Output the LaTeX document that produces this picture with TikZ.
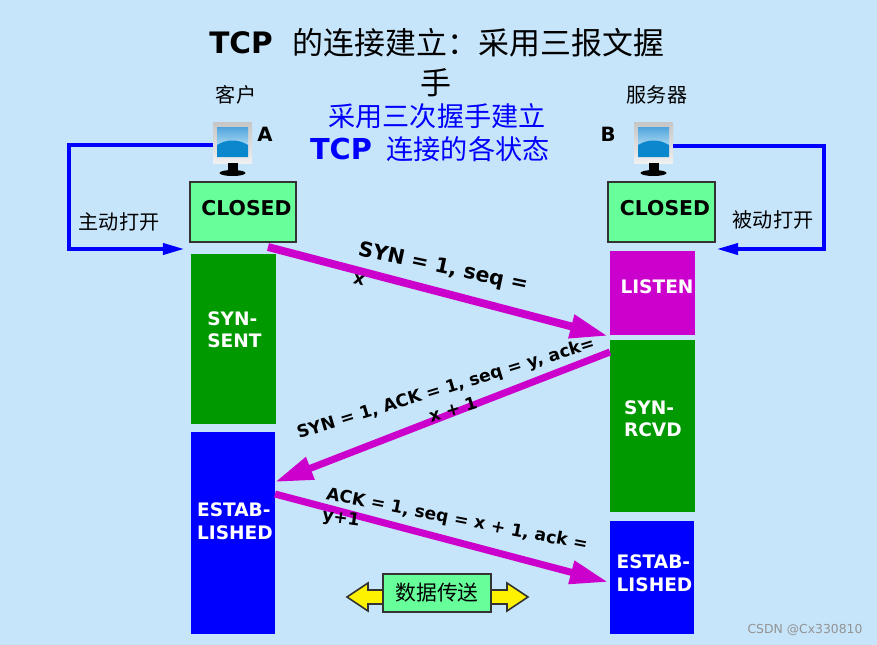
\documentclass[tikz,border=0pt]{standalone}
\usepackage{fontspec}
\setmainfont{DejaVu Sans}
\newfontfamily\cjk{Noto Sans CJK SC}
\usetikzlibrary{arrows.meta}

\definecolor{bgblue}{HTML}{C7E5FA}
\definecolor{mintbox}{HTML}{66FF99}
\definecolor{statusgreen}{HTML}{009900}
\definecolor{magentaline}{HTML}{CC00CC}
\definecolor{outlinegrey}{HTML}{333333}
\definecolor{screenlow}{HTML}{0B87CE}
\definecolor{screenhigh}{HTML}{A8D8F2}
\definecolor{screentop}{HTML}{4FA3DC}

\tikzset{
    closedbox/.style={draw=outlinegrey, line width=.9pt, fill=mintbox, minimum height=1.5cm, inner sep=0pt},
    closedtext/.style={inner sep=0pt, xshift=2.5pt, yshift=2.8pt, font=\fontsize{14.5}{16}\selectfont\bfseries},
    statebox/.style={minimum width=2.1cm, inner sep=0pt},
    statetext/.style={text=white, inner sep=0pt, align=left, font=\fontsize{13.2}{16}\selectfont\bfseries},
    msgline/.style={magentaline, line width=5pt, -{Triangle[length=27pt,width=16pt]}},
    openline/.style={blue, line width=2.3pt, -{Triangle[length=15pt,width=8pt]}},
    msglabel/.style={font=\fontsize{12.2}{14}\selectfont\bfseries, inner sep=0pt},
    cjklabel/.style={font=\cjk\fontsize{14.3}{16}\selectfont, inner sep=0pt},
    pics/monitor/.style={code={
        \shade[top color=gray!45, bottom color=gray!12] (-19.5,-26) rectangle (19.5,15);
        \shade[top color=screentop, bottom color=screenhigh] (-15.5,-21) rectangle (15.5,-3);
        \fill[screenlow] (-15.5,9) -- (-15.5,-3) .. controls (-6,-9) and (6,-9) .. (15.5,-3) -- (15.5,9) -- cycle;
        \fill[black] (-5,15) rectangle (5,23);
        \fill[black] (0,25) ellipse (13 and 3);
    }}
}

\begin{document}
\begin{tikzpicture}[x=.025cm, y=-.025cm]
    \fill[bgblue] (0,0) rectangle (877,645);
    \useasboundingbox (0,0) rectangle (877,645);

    % title
    \node[inner sep=0pt, font=\fontsize{21}{24}\selectfont\bfseries] (titleA) at (241,43) {TCP};
    \node[inner sep=0pt, font=\cjk\fontsize{22}{24}\selectfont] (titleB) at (478.5,43) {的连接建立：采用三报文握};
    \node[inner sep=0pt, font=\cjk\fontsize{22}{24}\selectfont] (titleC) at (436,83) {手};
    \node[inner sep=0pt, blue, font=\cjk\fontsize{19.3}{22}\selectfont] (subA) at (437,116) {采用三次握手建立};
    \node[inner sep=0pt, blue, font=\fontsize{20.5}{22}\selectfont\bfseries] (subB) at (341,149) {TCP};
    \node[inner sep=0pt, blue, font=\cjk\fontsize{19.3}{22}\selectfont] (subC) at (468,149) {连接的各状态};

    % hosts
    \node[cjklabel] (client) at (236,95) {客户};
    \node[cjklabel] (server) at (657,95) {服务器};
    \pic at (232.5,148) {monitor};
    \pic at (653.5,148) {monitor};
    \node[inner sep=0pt, font=\fontsize{14}{16}\selectfont\bfseries] (labA) at (265,134) {A};
    \node[inner sep=0pt, font=\fontsize{14}{16}\selectfont\bfseries] (labB) at (608,134) {B};

    % state columns
    \node[closedbox, minimum width=2.65cm, label={[closedtext]center:CLOSED}] (closedA) at (243,212) {};
    \node[closedbox, minimum width=2.675cm, label={[closedtext]center:CLOSED}] (closedB) at (661.5,212) {};
    \node[statebox, fill=statusgreen, minimum height=4.25cm, label={[statetext, xshift=.7pt, yshift=6.7pt]center:{SYN-\\SENT}}] (sent) at (233.5,339) {};
    \node[statebox, fill=blue, minimum height=5.05cm, label={[statetext, xshift=1.4pt, yshift=8.5pt]center:{ESTAB-\\LISHED}}] (estabA) at (233,533) {};
    \node[statebox, fill=magentaline, minimum height=2.1cm, label={[statetext, xshift=3.2pt, yshift=4.2pt]center:LISTEN}] (listen) at (652.5,293) {};
    \node[statebox, fill=statusgreen, minimum height=4.3cm, label={[statetext, xshift=.3pt, yshift=5pt]center:{SYN-\\RCVD}}] (rcvd) at (652.5,426) {};
    \node[statebox, fill=blue, minimum height=2.825cm, label={[statetext, xshift=1.8pt, yshift=3.2pt]center:{ESTAB-\\LISHED}}] (estabB) at (652,577.5) {};

    % open arrows
    \coordinate (leftA) at (213,145);
    \coordinate (leftB) at (69,145);
    \coordinate (leftC) at (69,249);
    \coordinate (leftD) at (184,249);
    \coordinate (rightA) at (673,146);
    \coordinate (rightB) at (824,146);
    \coordinate (rightC) at (824,249);
    \coordinate (rightD) at (717,249);
    \draw[openline] (leftA) -- (leftB) -- (leftC) -- (leftD);
    \draw[openline] (rightA) -- (rightB) -- (rightC) -- (rightD);
    \node[cjklabel] (activeopen) at (119,222) {主动打开};
    \node[cjklabel] (passiveopen) at (773,220) {被动打开};

    % messages
    \coordinate (synA) at (268,247);
    \coordinate (synB) at (608,336);
    \coordinate (ackA) at (610,352);
    \coordinate (ackB) at (275,482);
    \coordinate (finA) at (275,494);
    \coordinate (finB) at (608,582);
    \draw[msgline, line width=5.6pt] (synA) -- (synB);
    \draw[msgline] (ackA) -- (ackB);
    \draw[msgline] (finA) -- (finB);

    \node[msglabel, rotate=-12, font=\fontsize{14.6}{16}\selectfont\bfseries] (synlabelA) at (443,268) {SYN = 1, seq =};
    \node[msglabel, rotate=-12] (synlabelB) at (359,280) {x};
    \node[msglabel, rotate=17] (acklabelA) at (446,389) {SYN = 1, ACK = 1, seq = y, ack=};
    \node[msglabel, rotate=17] (acklabelB) at (453,409) {x + 1};
    \node[msglabel, rotate=-11] (finlabelA) at (457,520) {ACK = 1, seq = x + 1, ack =};
    \node[msglabel, rotate=-8] (finlabelB) at (341,519) {y+1};

    % data transfer
    \coordinate (dataL) at (347,597);
    \coordinate (dataR) at (528,597);
    \draw[outlinegrey, line width=1.1pt, fill=yellow] (dataL) -- (368,583) -- (368,590) -- (507,590) -- (507,583) -- (dataR) -- (507,611) -- (507,604) -- (368,604) -- (368,611) -- cycle;
    \node[draw=outlinegrey, line width=.9pt, fill=mintbox, minimum width=2.7cm, minimum height=.95cm, inner sep=0pt, font=\cjk\fontsize{14.8}{16}\selectfont] (data) at (437,593) {数据传送};

    \node[inner sep=0pt, text=gray!85, font=\fontsize{8.8}{11}\selectfont] (mark) at (805,630) {CSDN @Cx330810};
\end{tikzpicture}
\end{document}
